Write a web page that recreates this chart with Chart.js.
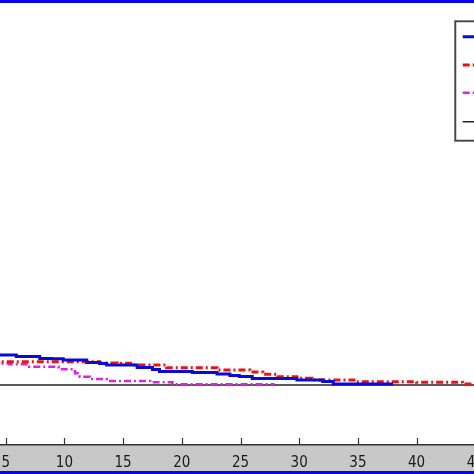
<!DOCTYPE html>
<html>
<head>
<meta charset="utf-8">
<script src="https://cdn.jsdelivr.net/npm/chart.js@4/dist/chart.umd.min.js"></script>
<style>
html,body{margin:0;padding:0;width:474px;height:474px;overflow:hidden;background:#c8c8c8;position:relative;}
#wrap{position:absolute;left:-53px;top:-55px;width:587px;height:526px;}
.bar{position:absolute;left:0;width:474px;background:#0505ee;}
</style>
</head>
<body>
<div id="wrap"><canvas id="c" width="587" height="526"></canvas></div>
<div class="bar" style="top:0;height:3px"></div>
<div class="bar" style="top:471px;height:3px"></div>
<script>
// ---- data ----
const seriesNames = ["Series 1", "Series 2", "Series 3", "Reference"];
const xTicks = [5, 10, 15, 20, 25, 30, 35, 40, 45];

const blueX = [4, 5.9, 7.9, 8.9, 9.9, 11.9, 13.0, 13.6, 16.2, 17.5, 18.1, 20.9, 23.0, 24.1, 24.9, 26.0, 29.8, 32.0, 32.9, 35.4, 38.0];
const blueY = [0.184, 0.180, 0.177, 0.173, 0.1725, 0.170, 0.165, 0.163, 0.160, 0.155, 0.151, 0.147, 0.145, 0.142, 0.139, 0.137, 0.133, 0.130, 0.127, 0.122, 0.122];

const redX = [4, 13.0, 14.5, 15.8, 18.7, 23.0, 25.8, 26.9, 28.1, 29.8, 31.1, 34.9, 40.0, 43.9, 44.5, 45];
const redY = [0.171, 0.1666, 0.164, 0.1634, 0.160, 0.1546, 0.150, 0.146, 0.1414, 0.1366, 0.1334, 0.130, 0.1266, 0.1254, 0.122, 0.122];

const magX = [4, 5.3, 7.0, 9.5, 10.9, 11.3, 12.2, 13.6, 17.3, 19.2, 23.0, 27.9];
const magY = [0.168, 0.163, 0.1615, 0.1566, 0.1514, 0.1434, 0.1366, 0.132, 0.128, 0.1254, 0.1214, 0.1214];

const refX = [0, 50];
const refY = [0.12, 0.12];

const pts = (xs, ys) => xs.map((x, i) => ({x: x, y: ys[i]}));

const whiteArea = {
  id: 'whiteArea',
  beforeDraw(chart) {
    const {ctx, chartArea: a} = chart;
    ctx.save();
    ctx.fillStyle = '#ffffff';
    ctx.fillRect(a.left, a.top, a.right - a.left, a.bottom - a.top);
    ctx.restore();
  }
};

const inTicks = {
  id: 'inTicks',
  afterDatasetsDraw(chart) {
    const {ctx, chartArea: a, scales} = chart;
    const xs = scales.x;
    ctx.save();
    ctx.strokeStyle = '#333';
    ctx.lineWidth = 1.2;
    xs.ticks.forEach(t => {
      const px = Math.round(xs.getPixelForValue(t.value)) + 0.5;
      ctx.beginPath();
      ctx.moveTo(px, a.bottom);
      ctx.lineTo(px, a.bottom - 7);
      ctx.stroke();
    });
    ctx.restore();
  }
};

const legendBox = {
  id: 'legendBox',
  afterDraw(chart) {
    const ctx = chart.ctx;
    const ox = 53, oy = 55; // page -> canvas offset
    const L = 455 + ox, T = 21 + oy, B = 140 + oy, R = 640;
    ctx.save();
    ctx.fillStyle = '#9a9a9a';
    ctx.fillRect(L - 1, T - 1, R - L, B - T + 3);
    ctx.fillStyle = '#ffffff';
    ctx.fillRect(L + 1, T + 1, R - L, B - T - 1);
    ctx.strokeStyle = '#444';
    ctx.lineWidth = 1.5;
    ctx.strokeRect(L + 0.5, T + 0.5, R - L, B - T);
    const ys = [36.7, 65, 92.7, 121.7];
    chart.data.datasets.forEach((ds, i) => {
      const y = ys[i] + oy;
      ctx.strokeStyle = ds.borderColor;
      ctx.lineWidth = ds.borderWidth;
      ctx.setLineDash(ds.borderDash || []);
      ctx.beginPath();
      ctx.moveTo(462.7 + ox, y);
      ctx.lineTo(500 + ox, y);
      ctx.stroke();
      ctx.setLineDash([]);
      ctx.fillStyle = '#000';
      ctx.font = '12px "Liberation Sans"';
      ctx.textBaseline = 'middle';
      ctx.fillText(ds.label, 505 + ox, y);
    });
    ctx.restore();
  }
};

new Chart(document.getElementById('c'), {
  type: 'line',
  data: {
    datasets: [
      {label: seriesNames[0], data: pts(blueX, blueY), borderColor: '#0a0ad8', borderWidth: 3, stepped: 'after', pointRadius: 0, fill: false},
      {label: seriesNames[1], data: pts(redX, redY), borderColor: '#ee1111', borderWidth: 3, borderDash: [7, 3, 2, 3], stepped: 'after', pointRadius: 0, fill: false},
      {label: seriesNames[2], data: pts(magX, magY), borderColor: '#dd22dd', borderWidth: 2.5, borderDash: [7, 3, 2, 3], stepped: 'after', pointRadius: 0, fill: false},
      {label: seriesNames[3], data: pts(refX, refY), borderColor: '#222222', borderWidth: 1.5, pointRadius: 0, fill: false}
    ]
  },
  options: {
    responsive: false,
    animation: false,
    devicePixelRatio: 1,
    layout: {padding: 0},
    plugins: {legend: {display: false}, tooltip: {enabled: false}},
    scales: {
      x: {
        type: 'linear', min: 0, max: 50,
        afterBuildTicks: s => { s.ticks = xTicks.map(v => ({value: v})); },
        afterFit: s => { s.height = 26; },
        grid: {display: true, drawOnChartArea: false, drawTicks: false},
        border: {display: true, color: '#333', width: 1.5},
        ticks: {padding: 9, color: '#1a1a1a', maxRotation: 0, autoSkip: false,
                font: {family: '"Liberation Sans Narrow", "DejaVu Sans Condensed", "Liberation Sans"', size: 15}}
      },
      y: {type: 'linear', min: 0, max: 1, display: false}
    }
  },
  plugins: [whiteArea, inTicks, legendBox]
});
</script>
</body>
</html>
